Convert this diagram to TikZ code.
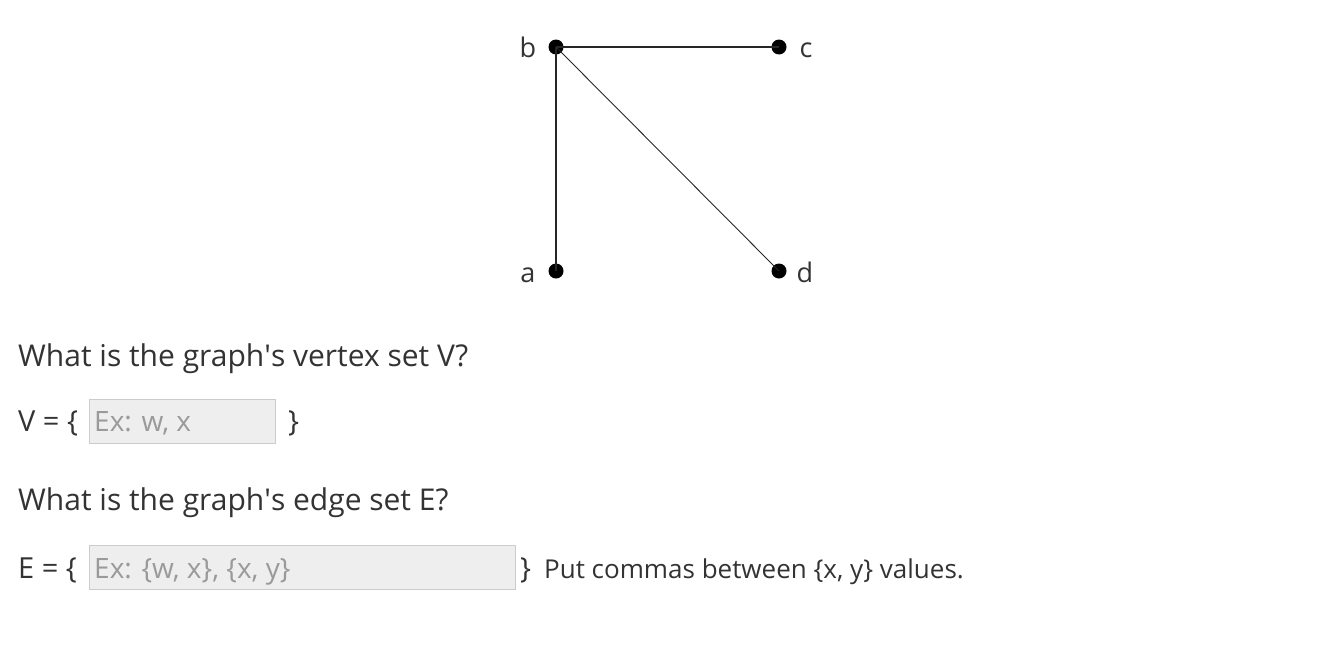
\documentclass[tikz,border=0pt]{standalone}
\usepackage{fontspec}
\setmainfont{Open Sans}
\definecolor{txt}{HTML}{333333}
\definecolor{boxfill}{HTML}{EEEEEE}
\definecolor{boxline}{HTML}{CCCCCC}
\definecolor{ph}{HTML}{9A9A9A}
\begin{document}
\begin{tikzpicture}[x=1pt,y=-1pt,
  vtx/.style={circle,fill=black,inner sep=0pt,minimum size=15pt},
  vlab/.style={text=txt,font=\fontsize{27}{30}\selectfont,inner sep=0pt},
  edge/.style={draw=black!85,line width=1.1pt},
  qtext/.style={text=txt,font=\fontsize{30}{34}\selectfont,anchor=base west,inner sep=0pt},
  eqtext/.style={text=txt,font=\fontsize{29}{34}\selectfont,anchor=base west,inner sep=0pt},
  small/.style={text=txt,font=\fontsize{26}{30}\selectfont,anchor=base west,inner sep=0pt},
  inbox/.style={draw=boxline,fill=boxfill,line width=1.2pt,anchor=north west,inner sep=0pt},
  phtext/.style={text=ph,font=\fontsize{28}{32}\selectfont,anchor=base west,inner sep=0pt}]
\useasboundingbox (0,0) rectangle (1322,648);
% graph
\node[vtx] (b) at (556,47) {};
\node[vtx] (c) at (779,47) {};
\node[vtx] (a) at (556,271) {};
\node[vtx] (d) at (779,271) {};
\node[vlab,anchor=base] (lb) at (528,57) {b};
\node[vlab,anchor=base] (lc) at (806,57) {c};
\node[vlab,anchor=base] (la) at (528,282) {a};
\node[vlab,anchor=base] (ld) at (805,282) {d};
\draw[edge] (b.center) -- (c.center);
\draw[edge] (b.center) -- (a.center);
\draw[edge,line width=0.9pt] (b.center) -- (d.center);
% question 1
\node[qtext] (q1) at (18,366) {What is the graph\textquotesingle s vertex set V?};
\node[eqtext] (v1) at (18,431) {V = \{};
\node[inbox,minimum width=186pt,minimum height=44pt] (box1) at (89,399) {};
\node[phtext] (p1) at (94,431) {Ex: w, x};
\node[eqtext] (v2) at (288,431) {\}};
% question 2
\node[qtext] (q2) at (18,510) {What is the graph\textquotesingle s edge set E?};
\node[eqtext] (e1) at (18,578) {E = \{};
\node[inbox,minimum width=426pt,minimum height=44pt] (box2) at (89,545) {};
\node[phtext] (p2) at (94,578) {Ex: \{w, x\}, \{x, y\}};
\node[eqtext] (e2) at (520,578) {\}};
\node[small] (note) at (544,578) {Put commas between \{x, y\} values.};
\end{tikzpicture}
\end{document}
